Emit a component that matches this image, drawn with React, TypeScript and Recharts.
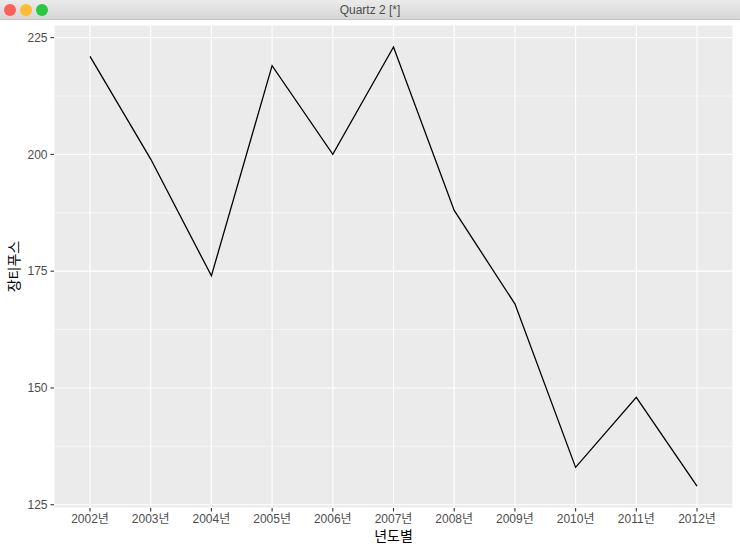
import React from 'react';
import { LineChart, Line, XAxis, YAxis, CartesianGrid, Label } from 'recharts';

const years = ['2002년', '2003년', '2004년', '2005년', '2006년', '2007년', '2008년', '2009년', '2010년', '2011년', '2012년'];
const cases = [221, 199, 174, 219, 200, 223, 188, 168, 133, 148, 129];
const yTicks = [125, 150, 175, 200, 225];
const yMinor = [137.5, 162.5, 187.5, 212.5];

const data = years.map((year, i) => ({ year, cases: cases[i] }));

const FONT = '"Liberation Sans", "Noto Sans CJK KR", sans-serif';

const renderYTitle = (props: any) => {
  const { viewBox } = props;
  const cx = viewBox.x + 14;
  const cy = viewBox.y + viewBox.height / 2;
  return (
    <text x={cx} y={cy} transform={`rotate(-90 ${cx} ${cy})`} textAnchor="middle" dominantBaseline="central"
      fontSize={14} fill="#000" fontFamily={FONT}>
      장티푸스
    </text>
  );
};

const renderXTitle = (props: any) => {
  const { viewBox } = props;
  const cx = viewBox.x + viewBox.width / 2;
  const cy = viewBox.y + 28;
  return (
    <text x={cx} y={cy} textAnchor="middle" dominantBaseline="central" fontSize={14} fill="#000" fontFamily={FONT}>
      년도별
    </text>
  );
};

// mac window chrome around the plot
const TitleBar: React.FC = () => (
  <div style={{
    position: 'absolute', left: 0, top: 0, width: 740, height: 19,
    background: 'linear-gradient(#ebebeb, #d6d6d6)', borderBottom: '1px solid #c4c4c4',
    fontFamily: FONT, fontSize: 12, color: '#4d4d4d', textAlign: 'center', lineHeight: '20px',
  }}>
    {['#fe5f57', '#febc2e', '#28c840'].map((c, i) => (
      <span key={c} style={{
        position: 'absolute', left: 4 + i * 16.2, top: 4, width: 12, height: 12,
        borderRadius: 6, background: c,
      }} />
    ))}
    Quartz 2 [*]
  </div>
);

const App: React.FC = () => {
  return (
    <div style={{ position: 'absolute', left: 0, top: 0, width: 740, height: 549, background: '#fff', overflow: 'hidden' }}>
      <TitleBar />
      <div style={{ position: 'absolute', left: 0, top: 19 }}>
        <LineChart width={740} height={530} data={data} margin={{ top: 6, right: 7, left: 0, bottom: 11 }}>
          <CartesianGrid fill="#ebebeb" stroke="#ffffff" strokeWidth={0.55} vertical={false}
            horizontalValues={yMinor} />
          <CartesianGrid stroke="#ffffff" strokeWidth={1.1} />
          <XAxis dataKey="year" height={30} axisLine={false} tickSize={3.5} tickMargin={3}
            tickLine={{ stroke: '#333333', strokeWidth: 1.1 }} padding={{ left: 36, right: 36 }}
            tick={{ fontSize: 12, fill: '#4d4d4d', fontFamily: FONT }} interval={0}>
            <Label content={renderXTitle} />
          </XAxis>
          <YAxis type="number" domain={[124.3, 227.7]} ticks={yTicks} allowDataOverflow width={54}
            axisLine={false} tickSize={3.5} tickMargin={3}
            tickLine={{ stroke: '#333333', strokeWidth: 1.1 }}
            tick={{ fontSize: 12, fill: '#4d4d4d', fontFamily: FONT }}>
            <Label content={renderYTitle} />
          </YAxis>
          <Line type="linear" dataKey="cases" stroke="#000" strokeWidth={1.3} dot={false} isAnimationActive={false} />
        </LineChart>
      </div>
    </div>
  );
};

export default App;
